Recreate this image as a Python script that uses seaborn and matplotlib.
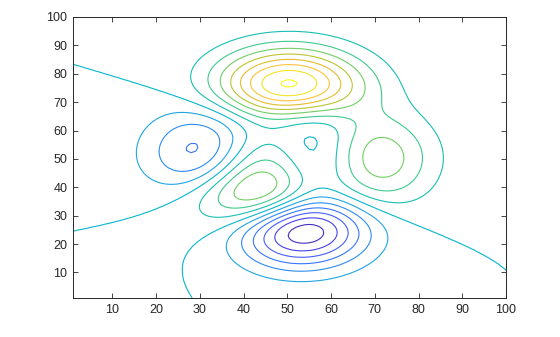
import numpy as np
import matplotlib
matplotlib.use("Agg")
import matplotlib.pyplot as plt
from matplotlib.colors import ListedColormap
import seaborn as sns

# Data: MATLAB peaks(100) surface sampled on a 100x100 grid
grid_n = 100
grid_lo, grid_hi = -3.0, 3.0
levels = [-6, -5, -4, -3, -2, -1, 0, 1, 2, 3, 4, 5, 6, 7, 8]
x_ticks = [10, 20, 30, 40, 50, 60, 70, 80, 90, 100]
y_ticks = [10, 20, 30, 40, 50, 60, 70, 80, 90, 100]

u = np.linspace(grid_lo, grid_hi, grid_n)
X, Y = np.meshgrid(u, u)
Z = (3 * (1 - X) ** 2 * np.exp(-X ** 2 - (Y + 1) ** 2)
     - 10 * (X / 5 - X ** 3 - Y ** 5) * np.exp(-X ** 2 - Y ** 2)
     - 1 / 3 * np.exp(-(X + 1) ** 2 - Y ** 2))
idx = np.arange(1, grid_n + 1)

parula = ListedColormap([
    (0.2422, 0.1504, 0.6603), (0.2504, 0.1650, 0.7076), (0.2578, 0.1818, 0.7511),
    (0.2647, 0.1978, 0.7952), (0.2706, 0.2147, 0.8364), (0.2751, 0.2342, 0.8710),
    (0.2783, 0.2559, 0.8991), (0.2803, 0.2782, 0.9221), (0.2813, 0.3006, 0.9414),
    (0.2810, 0.3228, 0.9579), (0.2795, 0.3447, 0.9717), (0.2760, 0.3667, 0.9829),
    (0.2699, 0.3892, 0.9906), (0.2602, 0.4123, 0.9952), (0.2440, 0.4358, 0.9988),
    (0.2206, 0.4603, 0.9973), (0.1963, 0.4847, 0.9892), (0.1834, 0.5074, 0.9798),
    (0.1786, 0.5289, 0.9682), (0.1764, 0.5499, 0.9520), (0.1687, 0.5703, 0.9359),
    (0.1540, 0.5902, 0.9218), (0.1460, 0.6091, 0.9079), (0.1380, 0.6276, 0.8973),
    (0.1248, 0.6459, 0.8883), (0.1113, 0.6635, 0.8763), (0.0952, 0.6798, 0.8598),
    (0.0689, 0.6948, 0.8394), (0.0297, 0.7082, 0.8163), (0.0036, 0.7199, 0.7913),
    (0.0067, 0.7303, 0.7651), (0.0433, 0.7399, 0.7374), (0.0964, 0.7492, 0.7071),
    (0.1408, 0.7584, 0.6738), (0.1717, 0.7670, 0.6385), (0.1938, 0.7758, 0.6251),
    (0.2161, 0.7843, 0.5923), (0.2470, 0.7918, 0.5567), (0.2906, 0.7973, 0.5188),
    (0.3406, 0.8008, 0.4789), (0.3909, 0.8029, 0.4354), (0.4456, 0.8024, 0.3909),
    (0.5044, 0.7993, 0.3480), (0.5616, 0.7942, 0.3045), (0.6174, 0.7876, 0.2612),
    (0.6720, 0.7793, 0.2227), (0.7242, 0.7698, 0.1910), (0.7738, 0.7598, 0.1646),
    (0.8203, 0.7498, 0.1535), (0.8634, 0.7406, 0.1596), (0.9035, 0.7330, 0.1774),
    (0.9393, 0.7288, 0.2100), (0.9728, 0.7298, 0.2394), (0.9956, 0.7434, 0.2371),
    (0.9970, 0.7659, 0.2199), (0.9952, 0.7893, 0.2028), (0.9892, 0.8136, 0.1885),
    (0.9786, 0.8386, 0.1766), (0.9676, 0.8639, 0.1643), (0.9610, 0.8890, 0.1537),
    (0.9597, 0.9135, 0.1423), (0.9628, 0.9373, 0.1265), (0.9691, 0.9606, 0.1064),
    (0.9769, 0.9839, 0.0805),
], name="parula")

sns.set_theme(style="white")
plt.rcParams['font.family'] = ['Liberation Sans', 'DejaVu Sans']

fig = plt.figure(figsize=(5.6, 3.37), dpi=100)
ax = fig.add_axes([73 / 560, 1 - 298 / 337, (506 - 73) / 560, (298 - 17) / 337])
ax.contour(idx, idx, Z, levels=levels, cmap=parula,
           vmin=float(Z.min()), vmax=float(Z.max()), linewidths=0.8)

ax.set_xlim(1, 100)
ax.set_ylim(1, 100)
ax.set_xticks(x_ticks)
ax.set_yticks(y_ticks)
ax.tick_params(direction="in", length=3.5, width=0.6, colors="#262626",
               labelsize=9, top=True, right=True, bottom=True, left=True,
               pad=4)
for s in ax.spines.values():
    s.set_visible(True)
    s.set_color("#262626")
    s.set_linewidth(0.7)
ax.grid(False)
ax.set_facecolor("white")
fig.patch.set_facecolor("white")

fig.savefig("out.png", dpi=100)
